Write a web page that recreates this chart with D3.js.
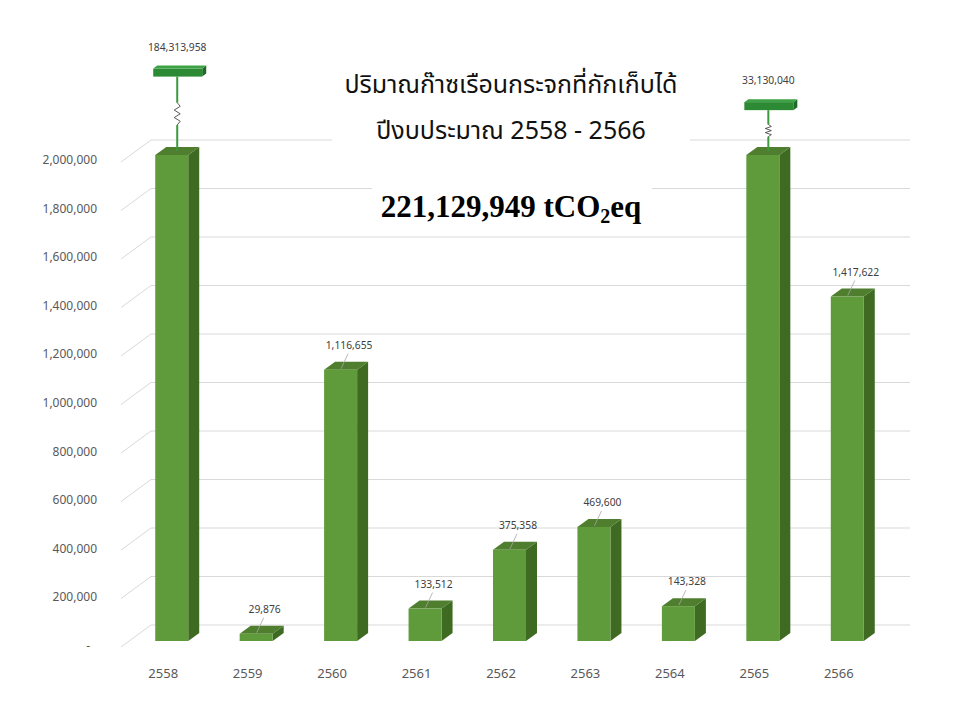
<!DOCTYPE html>
<html>
<head>
<meta charset="utf-8">
<script src="https://cdn.jsdelivr.net/npm/d3@7/dist/d3.min.js"></script>
<style>
  html, body { margin: 0; padding: 0; background: #fff; }
  svg text { font-family: "Noto Sans", "Liberation Sans", sans-serif; }
</style>
</head>
<body>
<svg id="chart" width="960" height="718"></svg>
<script>
// ---------- data ----------
const years = ["2558", "2559", "2560", "2561", "2562", "2563", "2564", "2565", "2566"];
const values = [184313958, 29876, 1116655, 133512, 375358, 469600, 143328, 33130040, 1417622];
const yTicks = [0, 200000, 400000, 600000, 800000, 1000000, 1200000, 1400000, 1600000, 1800000, 2000000];
const titleLines = ["ปริมาณก๊าซเรือนกระจกที่กักเก็บได้", "ปีงบประมาณ 2558 - 2566"];
const totalText = { main: "221,129,949 tCO", sub: "2", tail: "eq" };

// ---------- layout ----------
const svg = d3.select("#chart");
const yMax = 2000000;
const x = d3.scaleBand().domain(years).range([121, 881]);
const yBar = d3.scaleLinear().domain([0, yMax]).range([641, 155]);
const yGrid = d3.scaleLinear().domain([0, yMax]).range([625, 140]);
const yLab = d3.scaleLinear().domain([0, yMax]).range([646, 160]);
const yBreak = d3.scaleLog().domain([yMax, 200000000]).range([155, 65]);
const fmt = d3.format(",");
const depthX = 11, depthY = -8, barW = 33;

const cFront = "#5f9a3b", cSide = "#3e6a22", cTop = "#4e7e2e";
const sFront = "#2b8a33", sTop = "#3da246", sSide = "#1f6a26";

// gridlines (back wall) + left wall diagonals
const grid = svg.append("g");
yTicks.forEach(t => {
  grid.append("line").attr("x1", 151).attr("x2", 910)
    .attr("y1", yGrid(t)).attr("y2", yGrid(t))
    .attr("stroke", "#d9d9d9").attr("stroke-width", 1);
  grid.append("line").attr("x1", 121).attr("x2", 151)
    .attr("y1", yGrid(t) + 22).attr("y2", yGrid(t))
    .attr("stroke", "#d9d9d9").attr("stroke-width", 1);
});

// y tick labels
svg.append("g").selectAll("text").data(yTicks).join("text")
  .attr("x", d => d === 0 ? 90 : 97)
  .attr("y", d => yLab(d) + 4)
  .attr("text-anchor", "end")
  .attr("font-size", 12).attr("fill", "#595959")
  .text(d => d === 0 ? "-" : fmt(d));

// x labels
svg.append("g").selectAll("text").data(years).join("text")
  .attr("x", d => x(d) + x.bandwidth() / 2)
  .attr("y", 678)
  .attr("text-anchor", "middle")
  .attr("font-size", 13).attr("fill", "#595959")
  .text(d => d);

// title white boxes
svg.append("rect").attr("x", 332).attr("y", 55).attr("width", 358).attr("height", 95).attr("fill", "#fff");
svg.append("rect").attr("x", 372).attr("y", 165).attr("width", 280).attr("height", 65).attr("fill", "#fff");

const title = svg.append("g");
title.selectAll("text").data(titleLines).join("text")
  .attr("x", 511)
  .attr("y", (d, i) => 93 + i * 46)
  .attr("text-anchor", "middle")
  .attr("font-size", 25).attr("fill", "#111")
  .style("font-family", "Tahoma, 'Noto Sans Thai', 'Noto Sans', sans-serif")
  .text(d => d);

const tot = svg.append("text")
  .attr("x", 511).attr("y", 217)
  .attr("text-anchor", "middle")
  .style("font-family", "'Liberation Serif', 'Times New Roman', serif")
  .attr("font-size", 31).attr("font-weight", "bold").attr("fill", "#000");
tot.append("tspan").text(totalText.main);
tot.append("tspan").attr("font-size", 20).attr("dy", 6).text(totalText.sub);
tot.append("tspan").attr("dy", -6).text(totalText.tail);

// bars
const bars = svg.append("g");
const data = years.map((y, i) => ({ year: y, value: values[i] }));
data.forEach(d => {
  const x0 = x(d.year) + x.bandwidth() / 2 - 8;
  const v = Math.min(d.value, yMax);
  const yt = yBar(v), yb = yBar(0);
  const g = bars.append("g");
  // side
  g.append("path").attr("fill", cSide)
    .attr("d", `M${x0 + barW},${yt} L${x0 + barW + depthX},${yt + depthY} L${x0 + barW + depthX},${yb + depthY} L${x0 + barW},${yb} Z`);
  // top
  g.append("path").attr("fill", cTop)
    .attr("d", `M${x0},${yt} L${x0 + depthX},${yt + depthY} L${x0 + barW + depthX},${yt + depthY} L${x0 + barW},${yt} Z`);
  // front
  g.append("rect").attr("x", x0).attr("y", yt).attr("width", barW).attr("height", yb - yt).attr("fill", cFront);

  const cx = x0 + barW / 2 + depthX / 2; // top face centre
  if (d.value > yMax) {
    const sy = yBreak(d.value);
    const sh = 10, sw = 49;
    const sx = x0 - 2;
    const lineTop = sy + sh, lineBot = yt + depthY / 2;
    const gap = lineBot - lineTop;
    const zh = gap * 0.3;
    const z0 = lineTop + (gap - zh) / 2, z1 = z0 + zh;
    g.append("line").attr("x1", cx).attr("x2", cx).attr("y1", lineTop).attr("y2", z0)
      .attr("stroke", "#3a9a3c").attr("stroke-width", 2);
    g.append("line").attr("x1", cx).attr("x2", cx).attr("y1", z1).attr("y2", lineBot)
      .attr("stroke", "#3a9a3c").attr("stroke-width", 2);
    const n = 6, pts = [[cx, z0]];
    for (let k = 1; k < n; k++) pts.push([cx + (k % 2 ? 3 : -3), z0 + zh * k / n]);
    pts.push([cx, z1]);
    g.append("path").attr("d", d3.line()(pts)).attr("fill", "none")
      .attr("stroke", "#333").attr("stroke-width", 0.8);
    // slab
    g.append("path").attr("fill", sSide)
      .attr("d", `M${sx + sw},${sy + 2} L${sx + sw + 4},${sy - 1} L${sx + sw + 4},${sy + sh - 3} L${sx + sw},${sy + sh} Z`);
    g.append("path").attr("fill", sTop)
      .attr("d", `M${sx},${sy + 2} L${sx + 4},${sy - 1} L${sx + sw + 4},${sy - 1} L${sx + sw},${sy + 2} Z`);
    g.append("rect").attr("x", sx).attr("y", sy + 2).attr("width", sw).attr("height", sh - 2).attr("fill", sFront);
    g.append("text").attr("x", cx).attr("y", sy - 16)
      .attr("text-anchor", "middle").attr("font-size", 10.3).attr("fill", "#404040")
      .text(fmt(d.value));
  } else {
    const lx = x0 + 25;
    g.append("line").attr("x1", lx - 1).attr("y1", yt - 16).attr("x2", x0 + 17).attr("y2", yt - 1)
      .attr("stroke", "#a6a6a6").attr("stroke-width", 0.8);
    g.append("text").attr("x", lx).attr("y", yt - 21)
      .attr("text-anchor", "middle").attr("font-size", 10.3).attr("fill", "#404040")
      .text(fmt(d.value));
  }
});
</script>
</body>
</html>
